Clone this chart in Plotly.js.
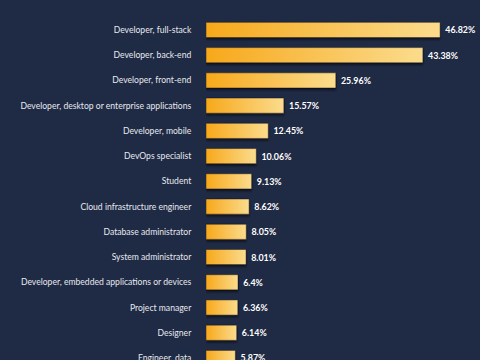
<!DOCTYPE html>
<html><head><meta charset="utf-8">
<script src="https://cdn.plot.ly/plotly-3.0.1.min.js"></script>
<style>html,body{margin:0;padding:0;background:#1f2a44;}#chart{width:480px;height:360px;}</style>
</head><body><div id="chart"></div>
<script>
const categories = [
  "Developer, full-stack",
  "Developer, back-end",
  "Developer, front-end",
  "Developer, desktop or enterprise applications",
  "Developer, mobile",
  "DevOps specialist",
  "Student",
  "Cloud infrastructure engineer",
  "Database administrator",
  "System administrator",
  "Developer, embedded applications or devices",
  "Project manager",
  "Designer",
  "Engineer, data"
];
const shares = [46.82, 43.38, 25.96, 15.57, 12.45, 10.06, 9.13, 8.62, 8.05, 8.01, 6.4, 6.36, 6.14, 5.87];
const valueLabels = ["46.82%","43.38%","25.96%","15.57%","12.45%","10.06%","9.13%","8.62%","8.05%","8.01%","6.4%","6.36%","6.14%","5.87%"];

const FONT = "'Source Sans Pro', Lato, 'Open Sans', sans-serif";
const trace = {
  type: 'bar',
  orientation: 'h',
  x: shares,
  y: categories,
  text: valueLabels.map(s => '\u00a0' + s),
  textposition: 'outside',
  cliponaxis: false,
  textfont: {family: FONT, size: 8.9, color: '#ffffff', weight: 'bold'},
  marker: {color: '#f9c04f', line: {color: 'rgba(20,20,30,0.45)', width: 1}},
  width: 0.6,
  hoverinfo: 'none'
};
const layout = {
  width: 480, height: 360,
  paper_bgcolor: '#1f2a44', plot_bgcolor: '#1f2a44',
  margin: {l: 206, r: 0, t: 10, b: 0},
  showlegend: false,
  xaxis: {range: [0, 54.8], visible: false, fixedrange: true},
  yaxis: {
    type: 'category', categoryorder: 'array', categoryarray: categories,
    range: [13.08, -0.79], showgrid: false, zeroline: false, showline: false,
    ticks: 'outside', ticklen: 12, tickcolor: 'rgba(0,0,0,0)',
    tickfont: {family: FONT, size: 8.6, color: '#e6e9ef'}, fixedrange: true
  }
};
Plotly.newPlot('chart', [trace], layout, {displayModeBar: false, staticPlot: true}).then(gd => {
  const svg = gd.querySelector('svg.main-svg');
  const ns = 'http://www.w3.org/2000/svg';
  const defs = document.createElementNS(ns, 'defs');
  defs.innerHTML = '<linearGradient id="barGrad" x1="0" y1="0" x2="1" y2="0">' +
    '<stop offset="0" stop-color="#f7a81b"/><stop offset="1" stop-color="#fbdc8d"/></linearGradient>' +
    '<filter id="barShadow" x="-5%" y="-20%" width="110%" height="160%">' +
    '<feDropShadow dx="0" dy="2" stdDeviation="0.8" flood-color="#000" flood-opacity="0.55"/></filter>';
  svg.insertBefore(defs, svg.firstChild);
  gd.querySelectorAll('.bars .point path').forEach(p => {
    p.style.fill = 'url(#barGrad)';
    p.setAttribute('filter', 'url(#barShadow)');
  });
});
</script></body></html>
